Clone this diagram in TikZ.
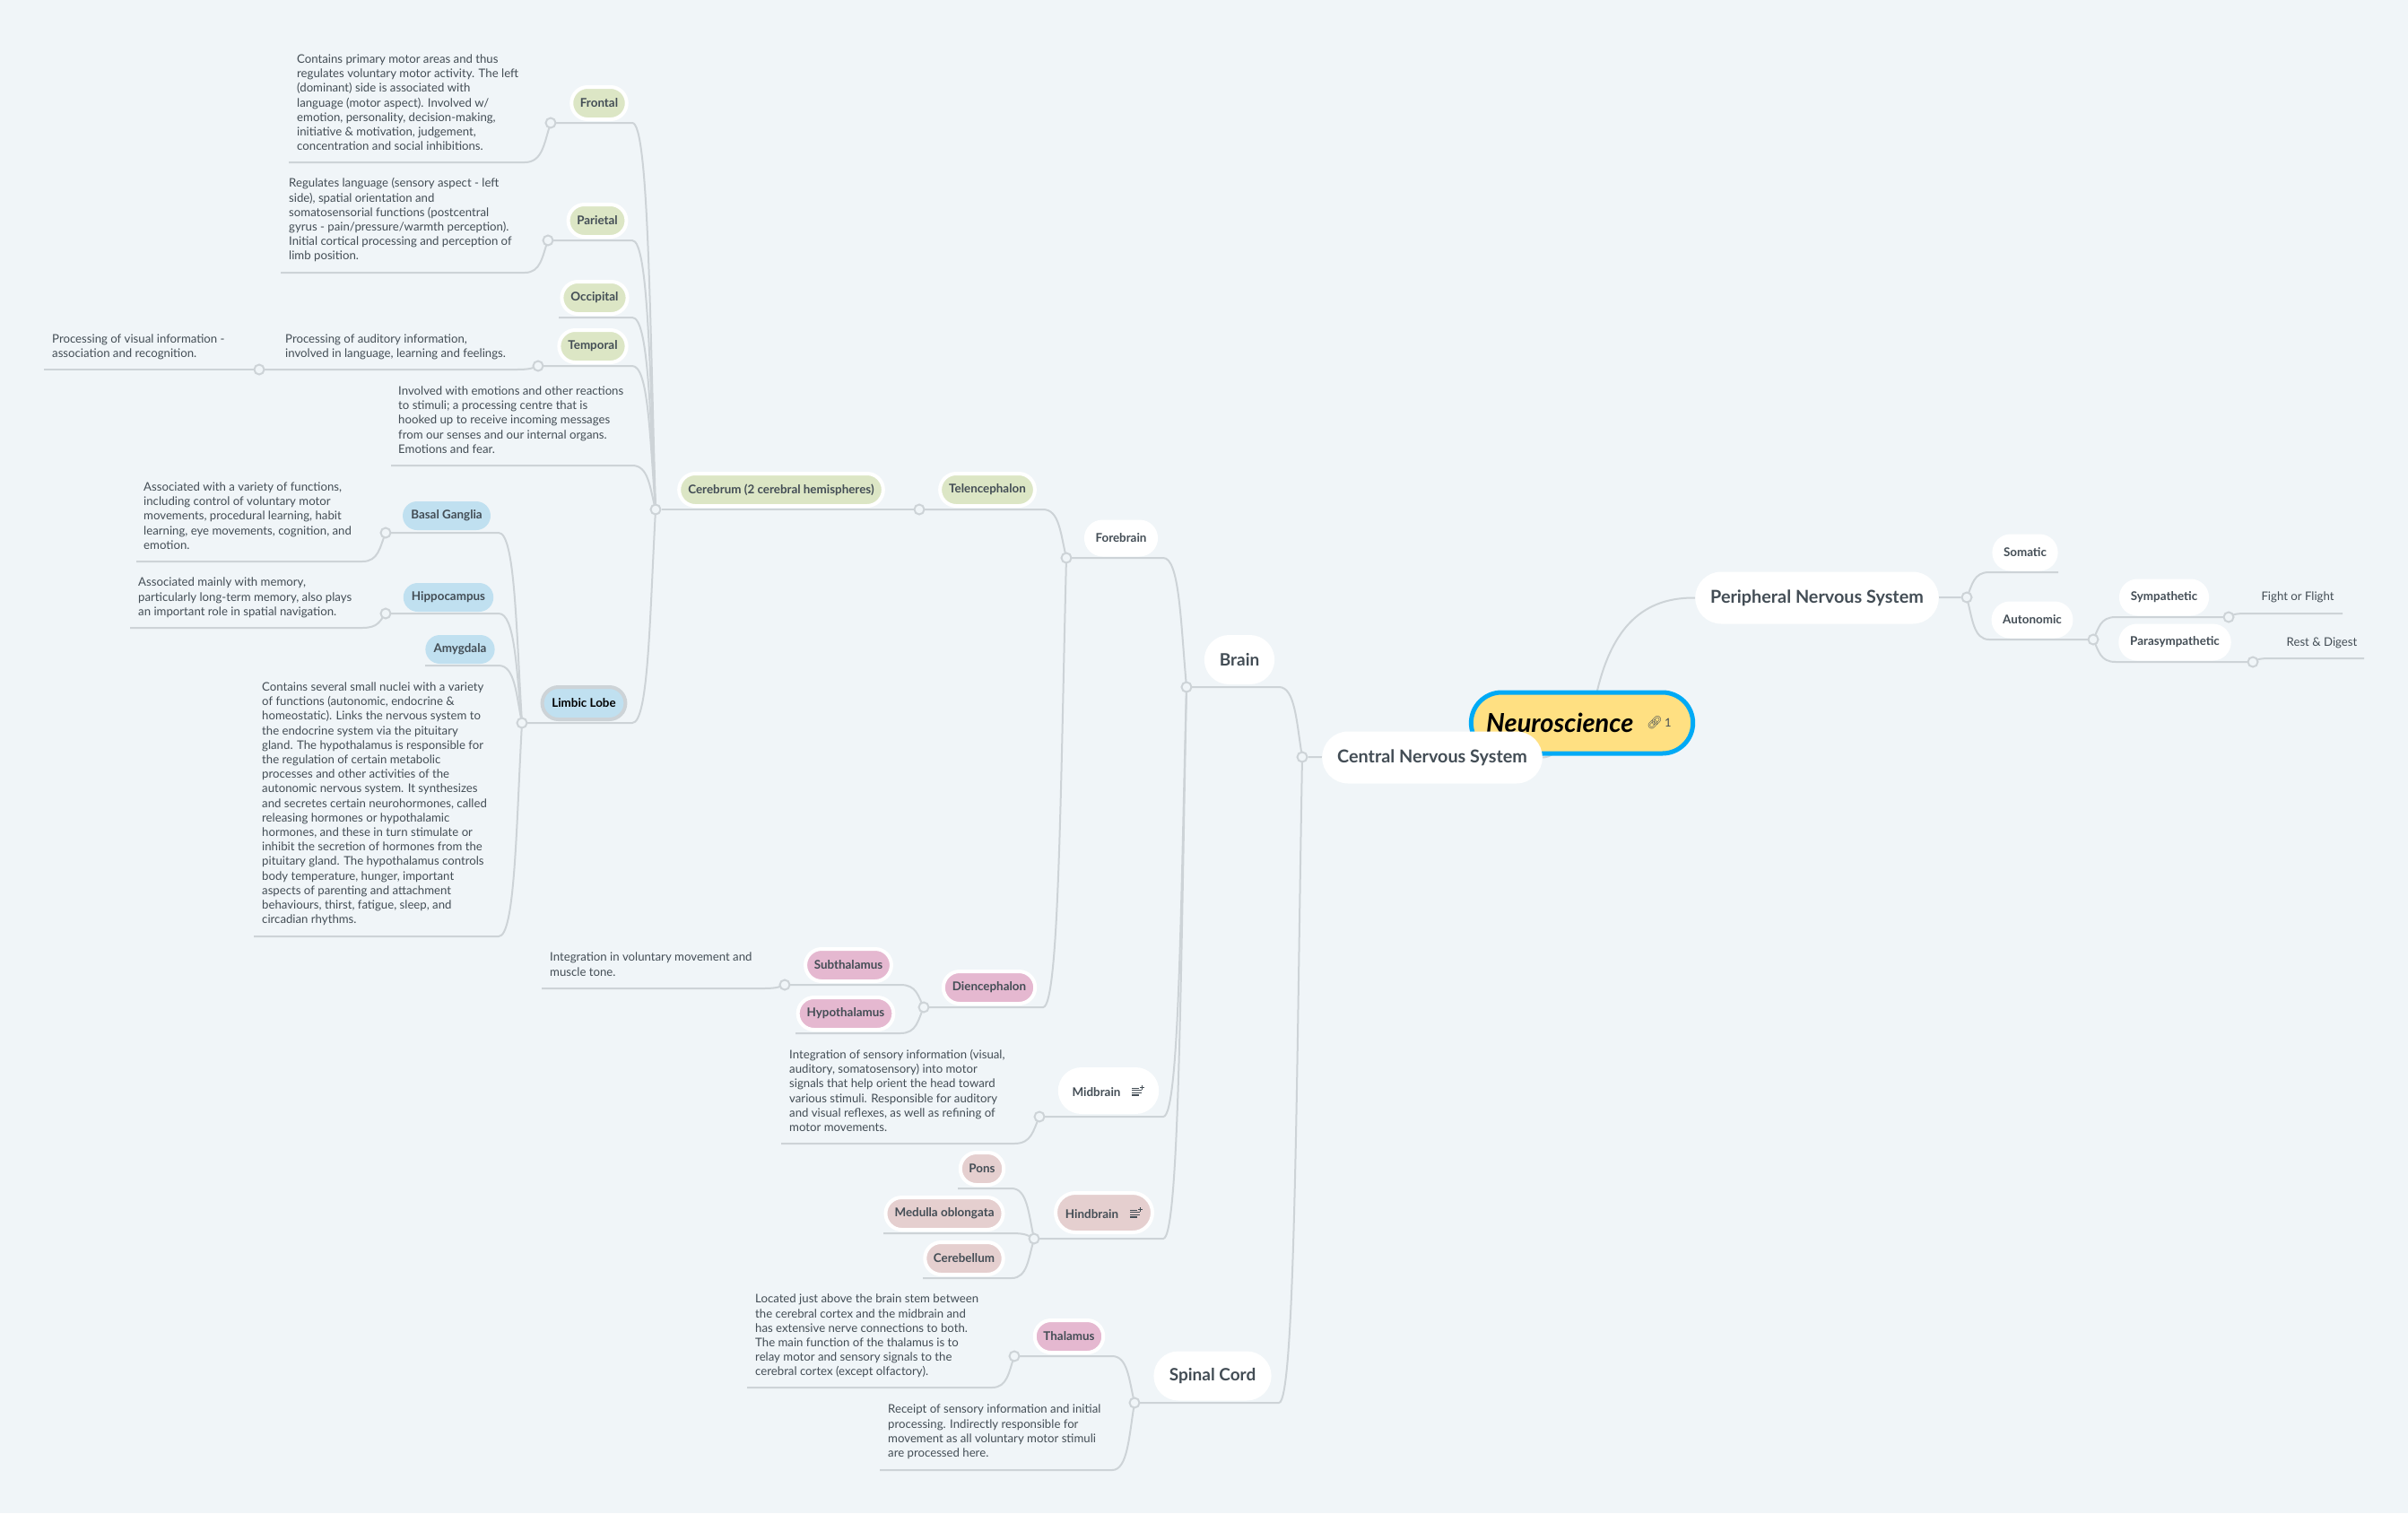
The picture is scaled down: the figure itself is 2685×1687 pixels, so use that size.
\documentclass[tikz,border=0pt]{standalone}
\usepackage{fontspec}
\setmainfont{Lato}
\newfontfamily\emojifont{Noto Emoji}
\usetikzlibrary{calc,backgrounds,shapes.misc}
\definecolor{pagebg}{HTML}{F0F5F8}
\definecolor{linegray}{HTML}{CDD3D7}
\definecolor{textgray}{HTML}{434D55}
\definecolor{rootfill}{HTML}{FFE082}
\definecolor{rootline}{HTML}{00AAF5}
\definecolor{greenfill}{HTML}{DCE6C5}
\definecolor{bluefill}{HTML}{C0E0F0}
\definecolor{pinkfill}{HTML}{E5B8D0}
\definecolor{rosefill}{HTML}{E5CFCF}
\tikzset{branch/.style={to path={let \p1=(\tikztostart),\p2=(\tikztotarget) in
  (\p1) .. controls ({\x1+0.25*#1},{0.5*\y1+0.5*\y2}) and ({\x1+0.3*#1},\y2) .. ({\x1+#1},\y2) -- (\p2)}},
  branch/.default=-26pt}
\newcommand{\noteicon}{\rlap{\rule[8.5pt]{8pt}{1.3pt}}\rlap{\rule[5.9pt]{11pt}{1.3pt}}\rlap{\rule[3.3pt]{11pt}{1.3pt}}\rlap{\rule[0.7pt]{8pt}{1.3pt}}\rlap{\kern9pt\rule[9.7pt]{5pt}{1pt}}\rlap{\kern11pt\rule[7.7pt]{1pt}{5pt}}\kern14pt}
\begin{document}
\begin{tikzpicture}[x=1pt,y=-1pt]
	\tikzstyle{bigtopic}=[rounded rectangle,fill=white,text=textgray,inner xsep=15.5pt,minimum height=58pt,font=\fontsize{19.8}{24}\selectfont\bfseries]
	\tikzstyle{brainbig}=[bigtopic,inner xsep=16pt,minimum height=55pt,font=\fontsize{19}{24}\selectfont\bfseries]
	\tikzstyle{topic}=[rounded rectangle,fill=white,text=textgray,inner xsep=12pt,minimum height=41pt,font=\fontsize{13.4}{16}\selectfont\bfseries]
	\tikzstyle{leaf}=[rounded rectangle,draw=white,line width=4pt,text=textgray,inner xsep=9pt,minimum height=36pt,font=\fontsize{13.4}{16}\selectfont\bfseries]
	\tikzstyle{greenleaf}=[leaf,fill=greenfill]
	\tikzstyle{blueleaf}=[leaf,draw=none,fill=bluefill,inner xsep=8pt,minimum height=32pt]
	\tikzstyle{pinkleaf}=[leaf,fill=pinkfill]
	\tikzstyle{roseleaf}=[leaf,fill=rosefill]
	\tikzstyle{desc}=[anchor=north west,inner sep=0pt,align=left,text=textgray,yshift=-3.5pt,font=\fontsize{13.2}{16.2}\selectfont]
	\tikzstyle{knob}=[circle,draw=linegray,fill=pagebg,line width=2pt,minimum size=11pt,inner sep=0pt]
	\tikzstyle{link}=[draw=linegray,line width=2pt]

	\useasboundingbox (0,0) rectangle (2685,1687);

	% root and the right side
	\node [rounded rectangle,draw=rootline,fill=rootfill,line width=5pt,minimum width=254pt,minimum height=68pt] (neuro) at (1764,806) {};
	\node [anchor=west,inner sep=0pt,font=\fontsize{29}{32}\selectfont\bfseries\itshape] (neurotext) at (1657,806) {Neuroscience};
	\node [anchor=west,inner sep=0pt,text=textgray,font=\fontsize{13}{16}\selectfont] (neurolink) at (1836,806) {{\emojifont\fontsize{14}{16}\selectfont 🔗}\,1};
	\coordinate (neurotop) at (1781,770);
	\node [bigtopic] (cns) at (1597,844.5) {Central Nervous System};
	\node [bigtopic] (pns) at (2026,666.5) {Peripheral Nervous System};
	\node [knob] (kpns) at (2193,666) {};
	\node [topic] (somatic) at (2258,616) {Somatic};
	\node [topic] (autonomic) at (2266,691) {Autonomic};
	\coordinate (somaticend) at (2295,638);
	\node [knob] (kauto) at (2334,713) {};
	\node [topic] (sympa) at (2413,666) {Sympathetic};
	\node [topic] (parasympa) at (2425,716) {Parasympathetic};
	\node [knob] (ksympa) at (2485,688) {};
	\node [knob] (kpara) at (2512,738) {};
	\node [desc,anchor=center,yshift=2.5pt] (flight) at (2562,665) {Fight or Flight};
	\node [desc,anchor=center,yshift=2.5pt] (digest) at (2589,716) {Rest \& Digest};
	\coordinate (flightend) at (2612,684);
	\coordinate (digestend) at (2636,734);

	% brain
	\node [knob] (kcns) at (1452,844) {};
	\node [brainbig] (brain) at (1382,735.5) {Brain};
	\node [knob] (kbrain) at (1323,766) {};
	\node [topic] (fore) at (1250,600) {Forebrain};
	\node [knob] (kfore) at (1189,622) {};
	\node [greenleaf] (tele) at (1101,546) {Telencephalon};
	\node [knob] (ktele) at (1025,568) {};
	\node [greenleaf] (cere) at (871,546) {Cerebrum (2 cerebral hemispheres)};
	\node [knob] (kcere) at (731,568) {};

	% lobes
	\node [greenleaf] (frontal) at (668,115) {Frontal};
	\node [knob] (kfrontal) at (614,137) {};
	\node [desc] (frontaltext) at (331,57) {Contains primary motor areas and thus\\regulates voluntary motor activity. The left\\(dominant) side is associated with\\language (motor aspect). Involved w/\\emotion, personality, decision-making,\\initiative \& motivation, judgement,\\concentration and social inhibitions.};
	\coordinate (frontalend) at (322,181);
	\node [greenleaf] (parietal) at (666,246) {Parietal};
	\node [knob] (kparietal) at (611,268) {};
	\node [desc] (parietaltext) at (322,195) {Regulates language (sensory aspect - left\\side), spatial orientation and\\somatosensorial functions (postcentral\\gyrus - pain/pressure/warmth perception).\\Initial cortical processing and perception of\\limb position.};
	\coordinate (parietalend) at (313,304);
	\node [greenleaf] (occipital) at (663,332) {Occipital};
	\coordinate (occipitalend) at (623,354);
	\node [greenleaf] (temporal) at (661,386) {Temporal};
	\node [knob] (ktemporal) at (600,408) {};
	\node [desc] (temporaltext) at (318,369) {Processing of auditory information,\\involved in language, learning and feelings.};
	\node [knob] (kvisual) at (289,412) {};
	\node [desc] (visualtext) at (58,369) {Processing of visual information -\\association and recognition.};
	\coordinate (visualend) at (49,412);
	\node [desc] (emotiontext) at (444,427) {Involved with emotions and other reactions\\to stimuli; a processing centre that is\\hooked up to receive incoming messages\\from our senses and our internal organs.\\Emotions and fear.};
	\coordinate (emotionend) at (436,519);

	% limbic lobe
	\node [rounded rectangle,draw=linegray,fill=bluefill,line width=4pt,text=black,inner xsep=10pt,minimum height=36pt,font=\fontsize{13.4}{16}\selectfont\bfseries] (limbic) at (651,784) {Limbic Lobe};
	\node [knob] (klimbic) at (582,806) {};
	\node [blueleaf] (basal) at (498,575) {Basal Ganglia};
	\node [knob] (kbasal) at (430,594) {};
	\node [desc] (basaltext) at (160,534) {Associated with a variety of functions,\\including control of voluntary motor\\movements, procedural learning, habit\\learning, eye movements, cognition, and\\emotion.};
	\coordinate (basalend) at (152,626);
	\node [blueleaf] (hippo) at (500,666) {Hippocampus};
	\node [knob] (khippo) at (430,684) {};
	\node [desc] (hippotext) at (154,640.5) {Associated mainly with memory,\\particularly long-term memory, also plays\\an important role in spatial navigation.};
	\coordinate (hippoend) at (145,700);
	\node [blueleaf] (amyg) at (513,724) {Amygdala};
	\coordinate (amygend) at (474,742);
	\node [desc] (limbictext) at (292,757) {Contains several small nuclei with a variety\\of functions (autonomic, endocrine \&\\homeostatic). Links the nervous system to\\the endocrine system via the pituitary\\gland. The hypothalamus is responsible for\\the regulation of certain metabolic\\processes and other activities of the\\autonomic nervous system. It synthesizes\\and secretes certain neurohormones, called\\releasing hormones or hypothalamic\\hormones, and these in turn stimulate or\\inhibit the secretion of hormones from the\\pituitary gland. The hypothalamus controls\\body temperature, hunger, important\\aspects of parenting and attachment\\behaviours, thirst, fatigue, sleep, and\\circadian rhythms.};
	\coordinate (limbicend) at (283,1044);

	% diencephalon
	\node [pinkleaf] (dien) at (1103,1101) {Diencephalon};
	\node [knob] (kdien) at (1030,1123) {};
	\node [pinkleaf] (subthal) at (946,1076) {Subthalamus};
	\node [knob] (ksubthal) at (875,1098) {};
	\node [desc] (subthaltext) at (613,1058.5) {Integration in voluntary movement and\\muscle tone.};
	\coordinate (subthalend) at (604,1102);
	\node [pinkleaf] (hypo) at (943,1130) {Hypothalamus};
	\coordinate (hypoend) at (887,1152);

	% midbrain and hindbrain
	\node [topic,inner xsep=15pt,minimum height=52pt] (mid) at (1236,1216) {Midbrain\hspace{13pt}\noteicon};
	\node [knob] (kmid) at (1159,1245) {};
	\node [desc] (midtext) at (880,1166.5) {Integration of sensory information (visual,\\auditory, somatosensory) into motor\\signals that help orient the head toward\\various stimuli. Responsible for auditory\\and visual reflexes, as well as refining of\\motor movements.};
	\coordinate (midend) at (871,1275);
	\node [roseleaf,inner xsep=10pt,minimum height=44pt] (hind) at (1231,1352) {Hindbrain\hspace{13pt}\noteicon};
	\node [knob] (khind) at (1153,1381) {};
	\node [roseleaf] (pons) at (1095,1303) {Pons};
	\coordinate (ponsend) at (1068,1325);
	\node [roseleaf] (medulla) at (1053,1353) {Medulla oblongata};
	\coordinate (medullaend) at (985,1375);
	\node [roseleaf] (cerebellum) at (1075,1403) {Cerebellum};
	\coordinate (cerebellumend) at (1029,1425);

	% spinal cord
	\node [brainbig] (spinal) at (1352,1534) {Spinal Cord};
	\node [knob] (kspinal) at (1265,1564) {};
	\node [pinkleaf] (thal) at (1192,1490) {Thalamus};
	\node [knob] (kthal) at (1131,1512) {};
	\node [desc] (thaltext) at (842,1439.5) {Located just above the brain stem between\\the cerebral cortex and the midbrain and\\has extensive nerve connections to both.\\The main function of the thalamus is to\\relay motor and sensory signals to the\\cerebral cortex (except olfactory).};
	\coordinate (thalend) at (833,1547);
	\node [desc] (receipttext) at (990,1562.5) {Receipt of sensory information and initial\\processing. Indirectly responsible for\\movement as all voluntary motor stimuli\\are processed here.};
	\coordinate (receiptend) at (981,1639);

	\begin{pgfonlayer}{background}
		\fill [pagebg] (0,0) rectangle (2685,1687);
		\path[link] (cns.east) .. controls (1728,844) and (1736,842) .. (neuro.center);
		\path[link] (neurotop) .. controls (1800,690) and (1840,666) .. (pns.west);
		\path[link] (pns) -- (kpns);
		\path[link] (kpns) to[branch=25pt] (somaticend);
		\path[link] (kpns) to[branch=25pt] (kauto);
		\path[link] (kauto) to[branch=25pt] (ksympa);
		\path[link] (kauto) to[branch=25pt] (kpara);
		\path[link] (ksympa) to[branch=18pt] (flightend);
		\path[link] (kpara) to[branch=18pt] (digestend);
		\path[link] (kcns) -- (cns);
		\path[link] (kcns) to[branch] (kbrain);
		\path[link] (kcns) to[branch] (kspinal);
		\path[link] (kbrain) to[branch] (kfore);
		\path[link] (kbrain) to[branch] (kmid);
		\path[link] (kbrain) to[branch] (khind);
		\path[link] (kfore) to[branch] (ktele);
		\path[link] (kfore) to[branch] (kdien);
		\path[link] (ktele) -- (kcere);
		\path[link] (kcere) to[branch] (kfrontal);
		\path[link] (kcere) to[branch] (kparietal);
		\path[link] (kcere) to[branch] (occipitalend);
		\path[link] (kcere) to[branch] (ktemporal);
		\path[link] (kcere) to[branch] (emotionend);
		\path[link] (kcere) to[branch] (klimbic);
		\path[link] (kfrontal) to[branch=-29pt] (frontalend);
		\path[link] (kparietal) to[branch=-26pt] (parietalend);
		\path[link] (ktemporal) to[branch=-24pt] (kvisual);
		\path[link] (kvisual) -- (visualend);
		\path[link] (klimbic) to[branch] (kbasal);
		\path[link] (klimbic) to[branch] (khippo);
		\path[link] (klimbic) to[branch] (amygend);
		\path[link] (klimbic) to[branch] (limbicend);
		\path[link] (kbasal) to[branch] (basalend);
		\path[link] (khippo) to[branch] (hippoend);
		\path[link] (kdien) to[branch] (ksubthal);
		\path[link] (kdien) to[branch] (hypoend);
		\path[link] (ksubthal) to[branch=-24pt] (subthalend);
		\path[link] (kmid) to[branch=-28pt] (midend);
		\path[link] (khind) to[branch=-25pt] (ponsend);
		\path[link] (khind) to[branch=-25pt] (medullaend);
		\path[link] (khind) to[branch=-25pt] (cerebellumend);
		\path[link] (kspinal) to[branch=-25pt] (kthal);
		\path[link] (kspinal) to[branch=-25pt] (receiptend);
		\path[link] (kthal) to[branch=-25pt] (thalend);
	\end{pgfonlayer}
\end{tikzpicture}
\end{document}
